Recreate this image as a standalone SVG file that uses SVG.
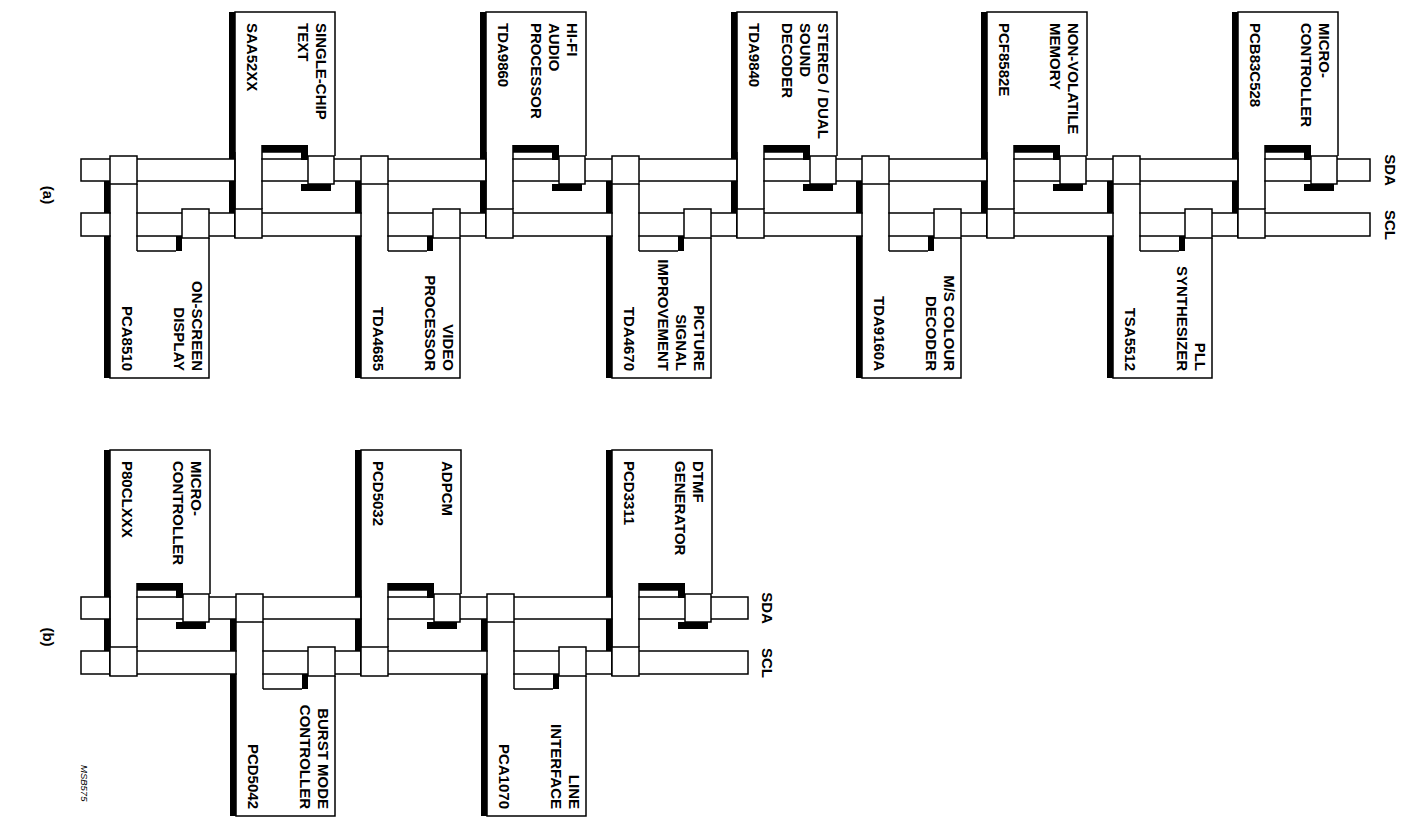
<svg xmlns="http://www.w3.org/2000/svg" width="1425" height="827" viewBox="0 0 1425 827">
<defs>
<style>
.w{fill:#fff;stroke:none}
.o{fill:none;stroke:#000;stroke-width:1.5}
.s{fill:#fff;stroke:#000;stroke-width:1.5}
.k{fill:#000}
text{font-family:"Liberation Sans",Arial,sans-serif;font-weight:bold;font-size:15px;fill:#000}
.e{text-anchor:end}
.m{text-anchor:middle}
</style>
<g id="topmod">
<rect class="k" x="-6" y="12" width="6" height="147"/>
<rect class="k" x="-6" y="181" width="6" height="32"/>
<rect class="w" x="0" y="12" width="100" height="146"/>
<path class="o" d="M0,238 V12 H100 V156"/>
<rect class="k" x="27" y="145" width="46" height="7"/>
<rect class="k" x="66" y="145" width="7" height="15"/>
<rect class="k" x="66" y="184" width="30" height="7"/>
<path class="o" d="M27,152 H66"/>
<rect class="w" x="0.8" y="152" width="25.5" height="57"/>
<path class="o" d="M0,152 V238 M27,145 V209"/>
<rect class="s" x="0" y="209" width="27" height="29"/>
<rect class="s" x="73" y="156" width="26" height="28"/>
</g>
<g id="botmod">
<rect class="k" x="-6" y="181" width="6" height="32"/>
<rect class="k" x="-6" y="236" width="6" height="142"/>
<rect class="w" x="0" y="237" width="99" height="141"/>
<rect class="k" x="66" y="236" width="6" height="15"/>
<rect class="w" x="0.8" y="184" width="25.5" height="67"/>
<path class="o" d="M0,184 V378 H99 V238 M27,184 V251 M27,251 H66"/>
<rect class="s" x="0" y="156" width="27" height="28"/>
<rect class="s" x="72" y="209" width="27" height="29"/>
</g>
</defs>

<g id="connectors">
<rect class="s" x="81" y="159" width="1289" height="22"/>
<rect class="s" x="81" y="213" width="1289" height="23"/>
<rect class="s" x="81" y="597" width="667" height="22"/>
<rect class="s" x="81" y="651" width="667" height="23"/>
</g>

<g id="labels">
<text class="m" transform="translate(43,195) rotate(90)">(a)</text>
<text class="m" transform="translate(43,637) rotate(90)">(b)</text>
<text class="m" transform="translate(1385,170) rotate(90)">SDA</text>
<text class="m" transform="translate(1385,225) rotate(90)">SCL</text>
<text class="m" transform="translate(762,608) rotate(90)">SDA</text>
<text class="m" transform="translate(762,663) rotate(90)">SCL</text>
<text transform="translate(81,765) rotate(90)" style="font-size:9.5px;font-weight:normal;font-style:italic">MSB575</text>
</g>

<g id="n-pca8510" transform="translate(110,0)"><use href="#botmod"/>
<text class="e" transform="translate(82,371) rotate(90)">ON-SCREEN</text>
<text class="e" transform="translate(64,371) rotate(90)">DISPLAY</text>
<text class="e" transform="translate(12,371) rotate(90)">PCA8510</text></g>
<g id="n-tda4685" transform="translate(361,0)"><use href="#botmod"/>
<text class="e" transform="translate(82,371) rotate(90)">VIDEO</text>
<text class="e" transform="translate(64,371) rotate(90)">PROCESSOR</text>
<text class="e" transform="translate(12,371) rotate(90)">TDA4685</text></g>
<g id="n-tda4670" transform="translate(612,0)"><use href="#botmod"/>
<text class="e" transform="translate(82,371) rotate(90)">PICTURE</text>
<text class="e" transform="translate(64,371) rotate(90)">SIGNAL</text>
<text class="e" transform="translate(46,371) rotate(90)">IMPROVEMENT</text>
<text class="e" transform="translate(12,371) rotate(90)">TDA4670</text></g>
<g id="n-tda9160a" transform="translate(862,0)"><use href="#botmod"/>
<text class="e" transform="translate(82,371) rotate(90)">M/S COLOUR</text>
<text class="e" transform="translate(64,371) rotate(90)">DECODER</text>
<text class="e" transform="translate(12,371) rotate(90)">TDA9160A</text></g>
<g id="n-tsa5512" transform="translate(1113,0)"><use href="#botmod"/>
<text class="e" transform="translate(82,371) rotate(90)">PLL</text>
<text class="e" transform="translate(64,371) rotate(90)">SYNTHESIZER</text>
<text class="e" transform="translate(12,371) rotate(90)">TSA5512</text></g>

<g id="n-saa52xx" transform="translate(235,0)"><use href="#topmod"/>
<text transform="translate(81,23) rotate(90)">SINGLE-CHIP</text>
<text transform="translate(63,23) rotate(90)">TEXT</text>
<text transform="translate(12,23) rotate(90)">SAA52XX</text></g>
<g id="n-tda9860" transform="translate(486,0)"><use href="#topmod"/>
<text transform="translate(81,23) rotate(90)">HI-FI</text>
<text transform="translate(63,23) rotate(90)">AUDIO</text>
<text transform="translate(45,23) rotate(90)">PROCESSOR</text>
<text transform="translate(12,23) rotate(90)">TDA9860</text></g>
<g id="n-tda9840" transform="translate(737,0)"><use href="#topmod"/>
<text transform="translate(81,23) rotate(90)">STEREO / DUAL</text>
<text transform="translate(63,23) rotate(90)">SOUND</text>
<text transform="translate(45,23) rotate(90)">DECODER</text>
<text transform="translate(12,23) rotate(90)">TDA9840</text></g>
<g id="n-pcf8582e" transform="translate(987,0)"><use href="#topmod"/>
<text transform="translate(81,23) rotate(90)">NON-VOLATILE</text>
<text transform="translate(63,23) rotate(90)">MEMORY</text>
<text transform="translate(12,23) rotate(90)">PCF8582E</text></g>
<g id="n-pcb83c528" transform="translate(1238,0)"><use href="#topmod"/>
<text transform="translate(81,23) rotate(90)">MICRO-</text>
<text transform="translate(63,23) rotate(90)">CONTROLLER</text>
<text transform="translate(12,23) rotate(90)">PCB83C528</text></g>

<g id="n-p80clxxx" transform="translate(110,438)"><use href="#topmod"/>
<text transform="translate(81,23) rotate(90)">MICRO-</text>
<text transform="translate(63,23) rotate(90)">CONTROLLER</text>
<text transform="translate(12,23) rotate(90)">P80CLXXX</text></g>
<g id="n-pcd5032" transform="translate(361,438)"><use href="#topmod"/>
<text transform="translate(81,23) rotate(90)">ADPCM</text>
<text transform="translate(12,23) rotate(90)">PCD5032</text></g>
<g id="n-pcd3311" transform="translate(612,438)"><use href="#topmod"/>
<text transform="translate(81,23) rotate(90)">DTMF</text>
<text transform="translate(63,23) rotate(90)">GENERATOR</text>
<text transform="translate(12,23) rotate(90)">PCD3311</text></g>
<g id="n-pcd5042" transform="translate(236,438)"><use href="#botmod"/>
<text class="e" transform="translate(82,371) rotate(90)">BURST MODE</text>
<text class="e" transform="translate(64,371) rotate(90)">CONTROLLER</text>
<text class="e" transform="translate(12,371) rotate(90)">PCD5042</text></g>
<g id="n-pca1070" transform="translate(487,438)"><use href="#botmod"/>
<text class="e" transform="translate(82,371) rotate(90)">LINE</text>
<text class="e" transform="translate(64,371) rotate(90)">INTERFACE</text>
<text class="e" transform="translate(12,371) rotate(90)">PCA1070</text></g>
</svg>
